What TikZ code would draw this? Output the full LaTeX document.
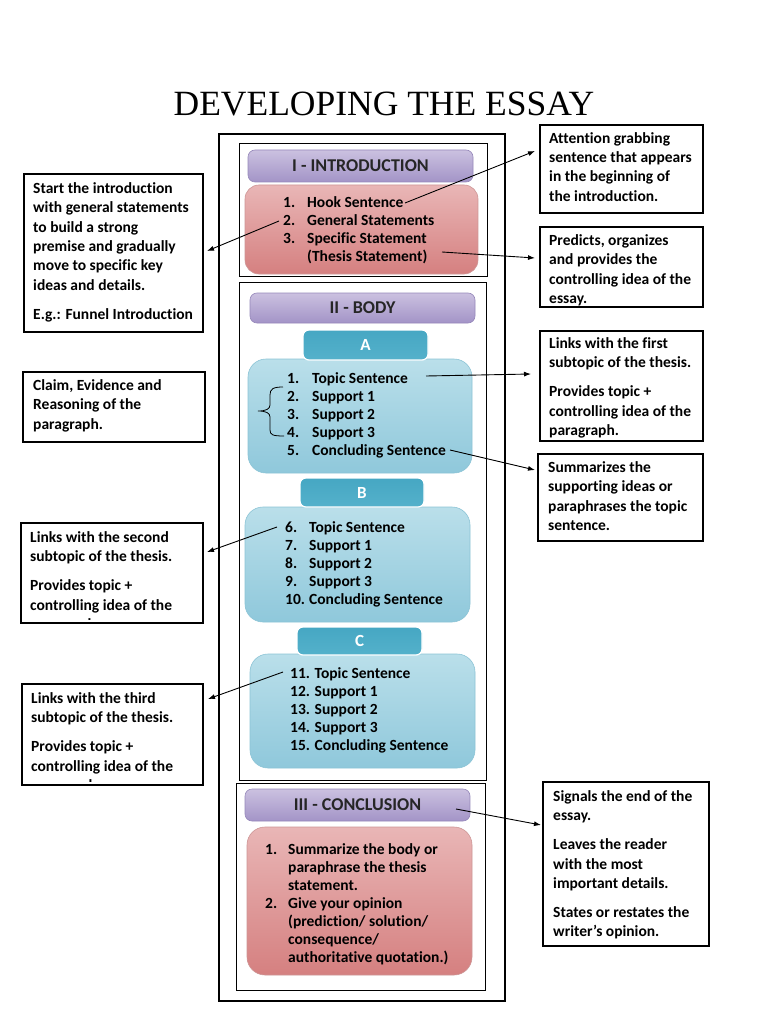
\documentclass[tikz,border=0pt]{standalone}
\usepackage{fontspec}
\newfontfamily\cfont[Ligatures=CommonOff]{Carlito}
\newfontfamily\tfont{Liberation Serif}
\usetikzlibrary{arrows.meta}
\definecolor{purT}{RGB}{203,193,224}
\definecolor{purB}{RGB}{163,148,199}
\definecolor{purD}{RGB}{150,136,186}
\definecolor{pinT}{RGB}{233,182,182}
\definecolor{pinB}{RGB}{213,128,128}
\definecolor{pinD}{RGB}{205,150,150}
\definecolor{bluT}{RGB}{186,223,234}
\definecolor{bluB}{RGB}{143,200,219}
\definecolor{bluD}{RGB}{140,196,214}
\definecolor{tabT}{RGB}{70,167,195}
\definecolor{tabB}{RGB}{84,177,203}
\tikzset{
  nb/.style={draw=black, line width=1.1pt, inner sep=0pt},
  frm/.style={draw=black, line width=1.1pt},
  txt/.style={anchor=north west, inner sep=0pt, align=left, font=\cfont\bfseries\fontsize{15.5}{19.4}\selectfont},
  lst/.style={anchor=north west, inner sep=0pt, align=left, font=\cfont\bfseries\fontsize{15.5}{18}\selectfont},
  hdr/.style={rounded corners=7pt, draw=purD, line width=0.6pt, top color=purT, bottom color=purB, inner sep=0pt, font=\cfont\bfseries\fontsize{18}{20}\selectfont, text=black!85},
  pinkbox/.style={rounded corners=14pt, draw=pinD, line width=0.6pt, top color=pinT, bottom color=pinB, inner sep=0pt},
  bluebox/.style={rounded corners=18pt, draw=bluD, line width=0.6pt, top color=bluT, bottom color=bluB, inner sep=0pt},
  tabbox/.style={rounded corners=6pt, draw=white, line width=1.2pt, top color=tabT, bottom color=tabB, inner sep=0pt, text=white, font=\cfont\bfseries\fontsize{17}{20}\selectfont},
  arr/.style={draw=black, line width=0.9pt, -{Latex[length=7pt,width=5pt]}}
}
\newcommand{\nm}[1]{\makebox[24pt][l]{#1}}
\newcommand{\st}{\rule{0pt}{11pt}}
\begin{document}
\begin{tikzpicture}[x=1pt,y=-1pt]
\useasboundingbox (0,0) rectangle (768,1024);
\fill[white] (0,0) rectangle (768,1024);

% title
\node[font=\tfont\fontsize{35.5}{40}\selectfont, anchor=base, inner sep=0pt] (title) at (384,115.5) {DEVELOPING THE ESSAY};

% frames
\draw[frm] (219,134) rectangle (505,1001);
\draw[frm, line width=1pt] (239,144) rectangle (487,276);
\draw[frm, line width=1pt] (239,282) rectangle (486,780);
\draw[frm, line width=1pt] (236,783) rectangle (485,990);

% introduction
\node[hdr, minimum width=225pt, minimum height=32pt] (ih) at (360.5,166) {I - INTRODUCTION};
\node[pinkbox, minimum width=233pt, minimum height=89pt] (ip) at (361.5,229.5) {};
\node[lst] (il) at (283,196) {\st\nm{1.}Hook Sentence\\\nm{2.}General Statements\\\nm{3.}Specific Statement\\\hspace*{24pt}(Thesis Statement)};

% body
\node[hdr, minimum width=225pt, minimum height=30pt] (bh) at (362.5,308) {II - BODY};
\node[bluebox, minimum width=224pt, minimum height=114pt] (Ab) at (360,416) {};
\node[tabbox, minimum width=125pt, minimum height=30pt] (At) at (365.5,345) {A};
\node[lst] (Al) at (287,372) {\st\makebox[25pt][l]{1.}Topic Sentence\\\makebox[25pt][l]{2.}Support 1\\\makebox[25pt][l]{3.}Support 2\\\makebox[25pt][l]{4.}Support 3\\\makebox[25pt][l]{5.}Concluding Sentence};
\draw[line width=0.8pt] (283,387) .. controls (273,387) and (270,389) .. (270,395) -- (270,405) .. controls (270,409) and (266,411) .. (258,411) .. controls (266,411) and (270,413) .. (270,417) -- (270,430) .. controls (270,435) and (273,436) .. (284,436);

\node[bluebox, minimum width=225pt, minimum height=115pt] (Bb) at (357.5,564.5) {};
\node[tabbox, minimum width=124pt, minimum height=29pt] (Bt) at (362,492.5) {B};
\node[lst] (Bl) at (285,521) {\st\nm{6.}Topic Sentence\\\nm{7.}Support 1\\\nm{8.}Support 2\\\nm{9.}Support 3\\\nm{10.}Concluding Sentence};

\node[bluebox, minimum width=225pt, minimum height=114pt] (Cb) at (362.5,711) {};
\node[tabbox, minimum width=125pt, minimum height=28pt] (Ct) at (359.5,641) {C};
\node[lst] (Cl) at (290,667) {\st 11. Topic Sentence\\12. Support 1\\13. Support 2\\14. Support 3\\15. Concluding Sentence};

% conclusion
\node[hdr, minimum width=225pt, minimum height=32pt] (ch) at (357.5,805) {III - CONCLUSION};
\node[pinkbox, rounded corners=18pt, minimum width=225pt, minimum height=148pt] (cp) at (359.5,901) {};
\node[lst] (cl) at (265,843) {\st\makebox[23pt][l]{1.}Summarize the body or\\\hspace*{23pt}paraphrase the thesis\\\hspace*{23pt}statement.\\\makebox[23pt][l]{2.}Give your opinion\\\hspace*{23pt}(prediction/ solution/\\\hspace*{23pt}consequence/\\\hspace*{23pt}authoritative quotation.)};

% note boxes
\node[nb, minimum width=179pt, minimum height=158pt] (L1) at (113.5,253) {};
\node[nb, minimum width=163pt, minimum height=88pt] (R1) at (621.5,169) {};
\node[nb, minimum width=163pt, minimum height=80pt] (R2) at (621.5,267) {};
\node[nb, minimum width=182pt, minimum height=70pt] (L2) at (114,407) {};
\node[nb, minimum width=163pt, minimum height=110pt] (R3) at (621.5,386) {};
\node[nb, minimum width=165pt, minimum height=87pt] (R4) at (620.5,497.5) {};
\node[nb, minimum width=182pt, minimum height=100pt] (L3) at (112,573) {};
\node[nb, minimum width=181pt, minimum height=101pt] (L4) at (112.5,734.5) {};
\node[nb, minimum width=166pt, minimum height=164pt] (R5) at (626,864) {};

\node[txt] (L1t) at (33,182) {\st Start the introduction\\with general statements\\to build a strong\\premise and gradually\\move to specific key\\ideas and details.\\[9.6pt]E.g.: Funnel Introduction};
\node[txt] (R1t) at (549,132) {\st Attention grabbing\\sentence that appears\\in the beginning of\\the introduction.};
\begin{scope}
\clip (R2.north west) rectangle ([yshift=1pt]R2.south east);
\node[txt] (R2t) at (549,234) {\st Predicts, organizes\\and provides the\\controlling idea of the\\essay.};
\end{scope}
\node[txt] (L2t) at (33,379) {\st Claim, Evidence and\\Reasoning of the\\paragraph.};
\begin{scope}
\clip (R3.north west) rectangle ([yshift=1pt]R3.south east);
\node[txt] (R3t) at (549,337) {\st Links with the first\\subtopic of the thesis.\\[9.6pt]Provides topic +\\controlling idea of the\\paragraph.};
\end{scope}
\node[txt] (R4t) at (548,461) {\st Summarizes the\\supporting ideas or\\paraphrases the topic\\sentence.};
\begin{scope}
\clip (L3.north west) rectangle ([yshift=4pt]L3.south east);
\node[txt] (L3t) at (30,531) {\st Links with the second\\subtopic of the thesis.\\[9.6pt]Provides topic +\\controlling idea of the\\paragraph.};
\end{scope}
\begin{scope}
\clip (L4.north west) rectangle ([yshift=4pt]L4.south east);
\node[txt] (L4t) at (31,692) {\st Links with the third\\subtopic of the thesis.\\[9.6pt]Provides topic +\\controlling idea of the\\paragraph.};
\end{scope}
\node[txt] (R5t) at (553,790) {\st Signals the end of the\\essay.\\[9.6pt]Leaves the reader\\with the most\\important details.\\[9.6pt]States or restates the\\writer’s opinion.};

% connector coordinates
\coordinate (a1s) at (405,203);
\coordinate (a1e) at (535,151);
\coordinate (a2s) at (279,221);
\coordinate (a2e) at (207,251);
\coordinate (a3s) at (442,252);
\coordinate (a3e) at (535,258);
\coordinate (a4s) at (426,376);
\coordinate (a4e) at (531,374);
\coordinate (a5s) at (450,450);
\coordinate (a5e) at (535,470);
\coordinate (a6s) at (277,527);
\coordinate (a6e) at (207,552);
\coordinate (a7s) at (283,672);
\coordinate (a7e) at (208,699);
\coordinate (a8s) at (456,809);
\coordinate (a8e) at (541,825);
\draw[arr] (a1s) -- (a1e);
\draw[arr] (a2s) -- (a2e);
\draw[arr] (a3s) -- (a3e);
\draw[arr] (a4s) -- (a4e);
\draw[arr] (a5s) -- (a5e);
\draw[arr] (a6s) -- (a6e);
\draw[arr] (a7s) -- (a7e);
\draw[arr] (a8s) -- (a8e);
\end{tikzpicture}
\end{document}
